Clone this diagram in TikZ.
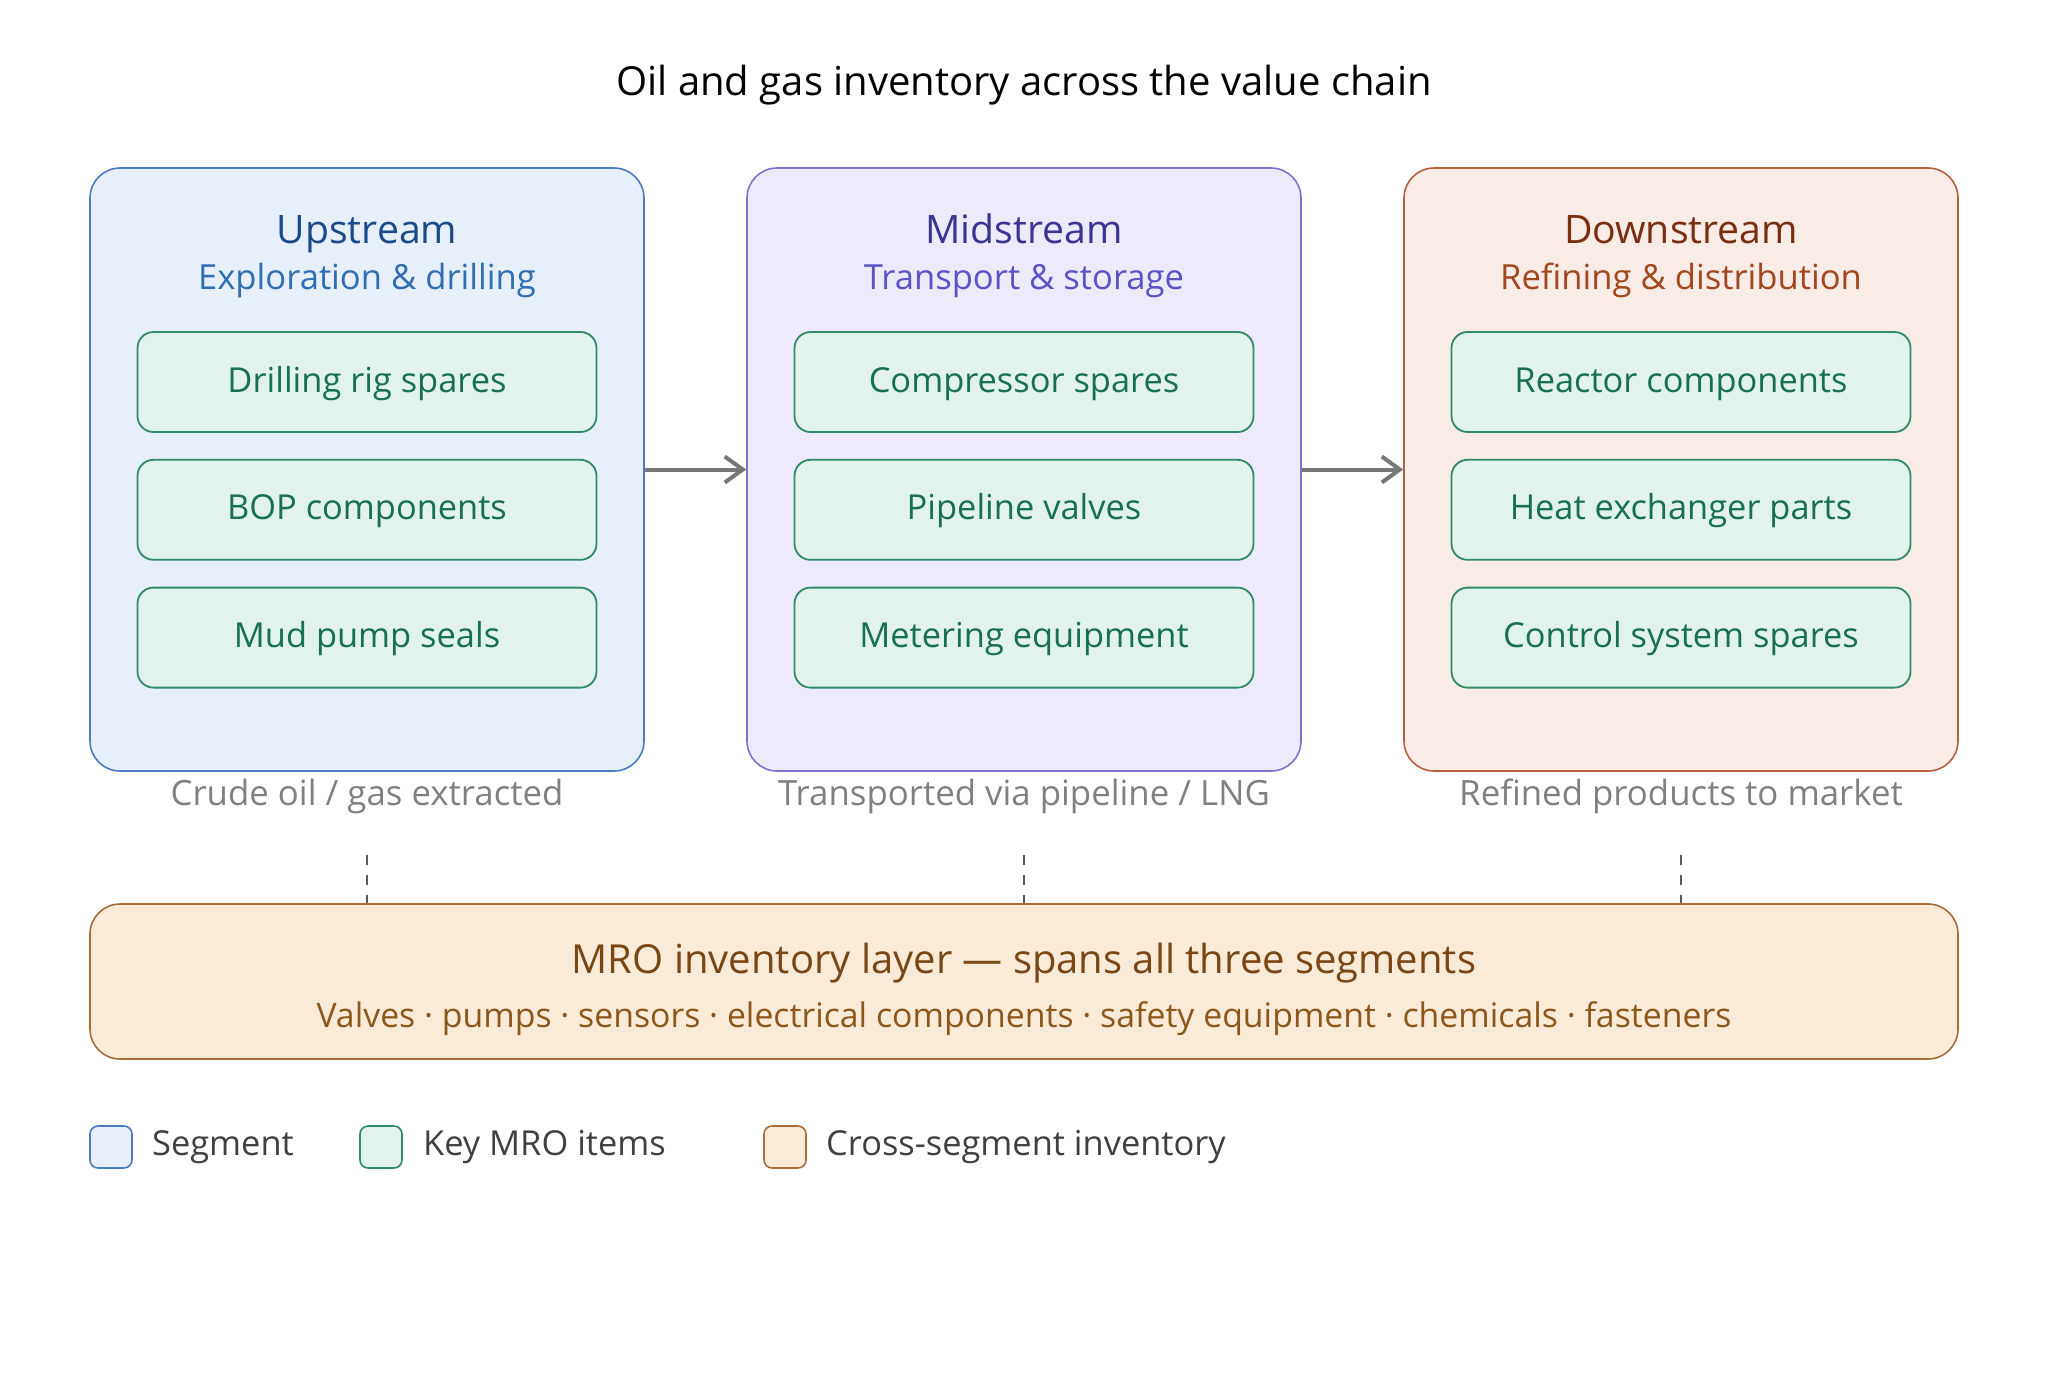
\documentclass[tikz,border=0pt]{standalone}
\usepackage{fontspec}
\setmainfont{Open Sans}
\usetikzlibrary{positioning,arrows.meta,calc}

\definecolor{upFill}{HTML}{E7F0FA}
\definecolor{upDraw}{HTML}{4A7BC4}
\definecolor{upHead}{HTML}{1B4A8A}
\definecolor{upSub}{HTML}{2F6DB5}
\definecolor{midFill}{HTML}{EDEBFB}
\definecolor{midDraw}{HTML}{7B74CF}
\definecolor{midHead}{HTML}{3B3494}
\definecolor{midSub}{HTML}{5B52C6}
\definecolor{dnFill}{HTML}{F9EBE6}
\definecolor{dnDraw}{HTML}{B5613D}
\definecolor{dnHead}{HTML}{7A2E10}
\definecolor{dnSub}{HTML}{A2461D}
\definecolor{itemFill}{HTML}{E1F3EC}
\definecolor{itemDraw}{HTML}{2F8A68}
\definecolor{itemText}{HTML}{17704F}
\definecolor{mroFill}{HTML}{FAEBD9}
\definecolor{mroDraw}{HTML}{A66D3A}
\definecolor{mroText}{HTML}{7A4614}
\definecolor{mroSub}{HTML}{8E571A}
\definecolor{capGray}{HTML}{808080}
\definecolor{flowGray}{HTML}{777777}
\definecolor{keyText}{HTML}{404040}

\begin{document}
\begin{tikzpicture}[
  x=0.5pt, y=-0.5pt,
  >={Straight Barb[length=9pt,width=13pt,line width=2pt]},
  segment/.style={
    rounded corners=15pt, line width=0.8pt,
    minimum width=277pt, minimum height=301.5pt
  },
  upseg/.style={segment, fill=upFill, draw=upDraw},
  midseg/.style={segment, fill=midFill, draw=midDraw},
  dnseg/.style={segment, fill=dnFill, draw=dnDraw},
  head/.style={anchor=base, font=\fontsize{19.6}{23}\selectfont},
  sub/.style={anchor=base, font=\fontsize{17.3}{20}\selectfont},
  item/.style={
    draw=itemDraw, fill=itemFill, line width=0.9pt, rounded corners=8pt,
    minimum width=229.5pt, minimum height=50pt,
    text height=12.5pt, text depth=2.5pt,
    text=itemText, font=\fontsize{17.2}{20}\selectfont
  },
  caption/.style={text=capGray, font=\fontsize{17.4}{20}\selectfont},
  flow/.style={->, line width=2pt, flowGray},
  link/.style={line width=0.7pt, black!65, dash pattern=on 5pt off 5pt},
  key/.style={rounded corners=4pt, line width=0.8pt,
    minimum width=21pt, minimum height=21pt, inner sep=0pt},
  keylabel/.style={text=keyText, font=\fontsize{17.2}{20}\selectfont, inner sep=0pt}
]
\useasboundingbox (0,0) rectangle (2048,1386);

% ---------- title ----------
\node[font=\fontsize{20}{24}\selectfont] (title) at (1024,85)
  {Oil and gas inventory across the value chain};

% ---------- the three segments ----------
\node[upseg]  (up)   at (367,469.5)  {};
\node[midseg] (mid)  at (1024,469.5) {};
\node[dnseg]  (down) at (1681,469.5) {};

\node[head, text=upHead]  (uphead)   at (367,243)  {Upstream};
\node[sub,  text=upSub]   (upsub)    at (367,289)  {Exploration \& drilling};
\node[head, text=midHead] (midhead)  at (1024,243) {Midstream};
\node[sub,  text=midSub]  (midsub)   at (1024,289) {Transport \& storage};
\node[head, text=dnHead]  (downhead) at (1681,243) {Downstream};
\node[sub,  text=dnSub]   (downsub)  at (1681,289) {Refining \& distribution};

% key MRO items per segment
\node[item] (up1) at (367,382) {Drilling rig spares};
\node[item, below=13pt of up1] (up2) {BOP components};
\node[item, below=13pt of up2] (up3) {Mud pump seals};

\node[item] (mid1) at (1024,382) {Compressor spares};
\node[item, below=13pt of mid1] (mid2) {Pipeline valves};
\node[item, below=13pt of mid2] (mid3) {Metering equipment};

\node[item] (down1) at (1681,382) {Reactor components};
\node[item, below=13pt of down1] (down2) {Heat exchanger parts};
\node[item, below=13pt of down2] (down3) {Control system spares};

% flow between segments
\draw[flow] (up.east) -- (mid.west);
\draw[flow] (mid.east) -- (down.west);

% outputs of each segment
\node[caption] (upcap)   at (367,796)  {Crude oil / gas extracted};
\node[caption] (midcap)  at (1024,796) {Transported via pipeline / LNG};
\node[caption] (downcap) at (1681,796) {Refined products to market};

% ---------- cross-segment MRO layer ----------
\node[draw=mroDraw, fill=mroFill, line width=0.8pt, rounded corners=15pt,
      minimum width=934pt, minimum height=77.5pt] (mro) at (1024,981.5) {};
\node[text=mroText, font=\fontsize{20}{24}\selectfont] (mrohead) at (1024,963)
  {MRO inventory layer — spans all three segments};
\node[text=mroSub, font=\fontsize{16.9}{20}\selectfont] (mrosub) at (1024,1019)
  {Valves · pumps · sensors · electrical components · safety equipment · chemicals · fasteners};

\coordinate (tick1) at (367,855);
\coordinate (tick2) at (1024,855);
\coordinate (tick3) at (1681,855);
\draw[link] (tick1) -- (tick1 |- mro.north);
\draw[link] (tick2) -- (tick2 |- mro.north);
\draw[link] (tick3) -- (tick3 |- mro.north);

% ---------- legend ----------
\node[key, fill=upFill, draw=upDraw] (k1) at (111,1147) {};
\node[keylabel, right=9.5pt of k1] (k1txt) {Segment};
\node[key, fill=itemFill, draw=itemDraw] (k2) at (381,1147) {};
\node[keylabel, right=10pt of k2] (k2txt) {Key MRO items};
\node[key, fill=mroFill, draw=mroDraw] (k3) at (785,1147) {};
\node[keylabel, right=9.5pt of k3] (k3txt) {Cross-segment inventory};

\end{tikzpicture}
\end{document}
